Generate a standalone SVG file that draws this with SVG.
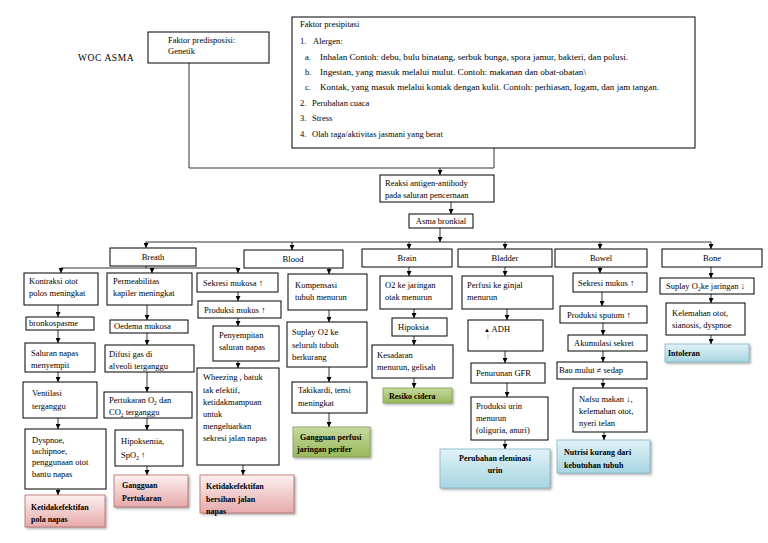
<svg xmlns="http://www.w3.org/2000/svg" width="768" height="543" viewBox="0 0 768 543">
<style>
.b{fill:#fff;stroke:#000;stroke-width:1}
.t{font-family:"Liberation Serif","Times New Roman",serif;font-size:8.5px;fill:#000}
.c{text-anchor:middle}
.bd{font-weight:bold;font-size:8px}
.ln{fill:none;stroke:#000;stroke-width:0.8}
.ar{fill:none;stroke:#000;stroke-width:0.8;marker-end:url(#ah)}
.pk{fill:url(#gp);stroke:#b76b69;stroke-width:0.8;filter:url(#sh)}
.gr{fill:url(#gg);stroke:#8aa04f;stroke-width:0.8;filter:url(#sh)}
.bl{fill:url(#gb);stroke:#82b7c8;stroke-width:0.8;filter:url(#sh)}
.s{font-size:5.5px}
</style>
<defs>
<marker id="ah" viewBox="0 0 6 6" refX="6" refY="3" markerWidth="5" markerHeight="5" markerUnits="userSpaceOnUse" orient="auto">
<path d="M0,0 L6,3 L0,6 Z" fill="#000"/>
</marker>
<linearGradient id="gp" x1="0" y1="0" x2="0" y2="1"><stop offset="0" stop-color="#fdf0f0"/><stop offset="1" stop-color="#e6aaaa"/></linearGradient>
<linearGradient id="gg" x1="0" y1="0" x2="0" y2="1"><stop offset="0" stop-color="#c6da9e"/><stop offset="1" stop-color="#98b95a"/></linearGradient>
<linearGradient id="gb" x1="0" y1="0" x2="0" y2="1"><stop offset="0" stop-color="#e2f2f7"/><stop offset="1" stop-color="#a6d5e2"/></linearGradient>
<filter id="sh" x="-10%" y="-10%" width="130%" height="140%"><feDropShadow dx="1.5" dy="1.5" stdDeviation="0.8" flood-color="#777" flood-opacity="0.6"/></filter>
</defs>
<rect width="768" height="543" fill="#fff"/>

<g id="title"><text class="t" x="78" y="61" style="font-size:9.5px;letter-spacing:0.6px">WOC  ASMA</text></g>

<g id="n-genetik">
<rect class="b" x="148" y="32" width="121" height="31"/>
<text class="t" x="168" y="43">Faktor predisposisi:</text>
<text class="t" x="168" y="54">Genetik</text>
</g>

<g id="n-presipitasi">
<rect class="b" x="292" y="17" width="403" height="131"/>
<text class="t" x="300" y="27">Faktor presipitasi</text>
<text class="t" x="300" y="44">1.</text><text class="t" x="313" y="44">Alergen:</text>
<text class="t" x="305" y="60">a.</text><text class="t" x="320" y="60" textLength="308" lengthAdjust="spacingAndGlyphs">Inhalan Contoh: debu, bulu binatang, serbuk bunga, spora jamur, bakteri, dan polusi.</text>
<text class="t" x="305" y="75">b.</text><text class="t" x="320" y="75" textLength="266" lengthAdjust="spacingAndGlyphs">Ingestan, yang masuk melalui mulut. Contoh: makanan dan obat-obatan\</text>
<text class="t" x="305" y="90">c.</text><text class="t" x="320" y="90" textLength="339" lengthAdjust="spacingAndGlyphs">Kontak, yang masuk melalui kontak dengan kulit. Contoh: perhiasan, logam, dan jam tangan.</text>
<text class="t" x="300" y="106">2.</text><text class="t" x="312" y="106">Perubahan cuaca</text>
<text class="t" x="300" y="121">3.</text><text class="t" x="312" y="121">Stress</text>
<text class="t" x="300" y="137">4.</text><text class="t" x="312" y="137">Olah raga/aktivitas jasmani yang berat</text>
</g>

<g id="n-reaksi">
<rect class="b" x="380" y="175" width="114" height="27"/>
<text class="t" x="385" y="186">Reaksi antigen-antibody</text>
<text class="t" x="385" y="198">pada saluran pencernaan</text>
</g>

<g id="n-asma">
<rect class="b" x="409" y="214" width="64" height="14"/>
<text class="t c" x="441" y="224">Asma bronkial</text>
</g>

<g id="n-breath"><rect class="b" x="110" y="248" width="86" height="18"/><text class="t c" x="153" y="260">Breath</text></g>
<g id="n-blood"><rect class="b" x="244" y="250" width="99" height="18"/><text class="t c" x="293" y="262">Blood</text></g>
<g id="n-brain"><rect class="b" x="362" y="249" width="90" height="18"/><text class="t c" x="407" y="261">Brain</text></g>
<g id="n-bladder"><rect class="b" x="458" y="249" width="94" height="18"/><text class="t c" x="505" y="261">Bladder</text></g>
<g id="n-bowel"><rect class="b" x="555" y="249" width="92" height="18"/><text class="t c" x="601" y="261">Bowel</text></g>
<g id="n-bone"><rect class="b" x="662" y="249" width="100" height="18"/><text class="t c" x="712" y="261">Bone</text></g>

<!-- Breath left -->
<g id="n-kontraksi"><rect class="b" x="24" y="273" width="74" height="32"/><text class="t" x="29" y="284">Kontraksi otot</text><text class="t" x="29" y="296">polos meningkat</text></g>
<g id="n-bronkospasme"><rect class="b" x="26" y="317" width="68" height="13"/><text class="t" x="29" y="326">bronkospasme</text></g>
<g id="n-saluran"><rect class="b" x="25" y="343" width="70" height="29"/><text class="t" x="31" y="356">Saluran napas</text><text class="t" x="31" y="368">menyempit</text></g>
<g id="n-ventilasi"><rect class="b" x="23" y="382" width="74" height="36"/><text class="t" x="32" y="396">Ventilasi</text><text class="t" x="32" y="409">terganggu</text></g>
<g id="n-dyspnoe"><rect class="b" x="25" y="429" width="81" height="60"/><text class="t" x="32" y="443">Dyspnoe,</text><text class="t" x="32" y="454">tachipnoe,</text><text class="t" x="32" y="465">penggunaan otot</text><text class="t" x="32" y="477">bantu napas</text></g>
<g id="n-pola"><rect class="pk" x="25" y="495" width="80" height="32"/><text class="t bd" x="31" y="510">Ketidakefektifan</text><text class="t bd" x="31" y="522">pola napas</text></g>

<!-- Breath right -->
<g id="n-permeabilitas"><rect class="b" x="107" y="273" width="85" height="32"/><text class="t" x="113" y="284">Permeabilitas</text><text class="t" x="113" y="296">kapiler meningkat</text></g>
<g id="n-oedema"><rect class="b" x="110" y="320" width="78" height="13"/><text class="t" x="114" y="329">Oedema mukosa</text></g>
<g id="n-difusi"><rect class="b" x="105" y="345" width="89" height="27"/><text class="t" x="109" y="357">Difusi gas di</text><text class="t" x="109" y="369">alveoli terganggu</text></g>
<g id="n-pertukaran"><rect class="b" x="104" y="392" width="88" height="26"/><text class="t" x="109" y="403">Pertukaran O<tspan class="s" dy="2">2</tspan><tspan dy="-2"> dan</tspan></text><text class="t" x="109" y="415">CO<tspan class="s" dy="2">2</tspan><tspan dy="-2"> terganggu</tspan></text></g>
<g id="n-hipoksemia"><rect class="b" x="115" y="430" width="68" height="36"/><text class="t" x="121" y="444">Hipoksemia,</text><text class="t" x="121" y="458">SpO<tspan class="s" dy="2">2</tspan><tspan dy="-2"> ↑</tspan></text></g>
<g id="n-gangguan-pertukaran"><rect class="pk" x="114" y="475" width="74" height="32"/><text class="t bd" x="122" y="488">Gangguan</text><text class="t bd" x="122" y="501">Pertukaran</text></g>

<!-- Blood left -->
<g id="n-sekresi-mukosa"><rect class="b" x="197" y="273" width="81" height="19"/><text class="t" x="203" y="286">Sekresi mukosa ↑</text></g>
<g id="n-produksi-mukus"><rect class="b" x="198" y="301" width="83" height="17"/><text class="t" x="204" y="313">Produksi mukus ↑</text></g>
<g id="n-penyempitan"><rect class="b" x="213" y="326" width="66" height="35"/><text class="t" x="219" y="338">Penyempitan</text><text class="t" x="219" y="350">saluran napas</text></g>
<g id="n-wheezing"><rect class="b" x="197" y="368" width="82" height="97"/><text class="t" x="203" y="380">Wheezing , batuk</text><text class="t" x="203" y="393">tak efektif,</text><text class="t" x="203" y="405">ketidakmampuan</text><text class="t" x="203" y="417">untuk</text><text class="t" x="203" y="429">mengeluarkan</text><text class="t" x="203" y="441">sekresi jalan napas</text></g>
<g id="n-bersihan"><rect class="pk" x="200" y="475" width="94" height="38"/><text class="t bd" x="206" y="489">Ketidakefektifan</text><text class="t bd" x="206" y="502">bersihan jalan</text><text class="t bd" x="206" y="514">napas</text></g>

<!-- Blood right -->
<g id="n-kompensasi"><rect class="b" x="288" y="274" width="79" height="36"/><text class="t" x="295" y="288">Kompensasi</text><text class="t" x="295" y="300">tubuh menurun</text></g>
<g id="n-suplay"><rect class="b" x="287" y="322" width="80" height="45"/><text class="t" x="292" y="335">Suplay O2 ke</text><text class="t" x="292" y="348">seluruh tubuh</text><text class="t" x="292" y="360">berkurang</text></g>
<g id="n-takikardi"><rect class="b" x="292" y="382" width="75" height="31"/><text class="t" x="298" y="393">Takikardi, tensi</text><text class="t" x="298" y="406">meningkat</text></g>
<g id="n-perfusi-perifer"><rect class="gr" x="293" y="427" width="77" height="30"/><text class="t bd" x="300" y="440">Gangguan perfusi</text><text class="t bd" x="297" y="452">jaringan perifer</text></g>

<!-- Brain -->
<g id="n-o2otak"><rect class="b" x="380" y="276" width="72" height="33"/><text class="t" x="385" y="288">O2 ke jaringan</text><text class="t" x="385" y="300">otak menurun</text></g>
<g id="n-hipoksia"><rect class="b" x="392" y="318" width="55" height="18"/><text class="t" x="398" y="330">Hipoksia</text></g>
<g id="n-kesadaran"><rect class="b" x="372" y="345" width="81" height="33"/><text class="t" x="377" y="358">Kesadaran</text><text class="t" x="377" y="370">menurun, gelisah</text></g>
<g id="n-cidera"><rect class="gr" x="383" y="388" width="69" height="15"/><text class="t bd" x="389" y="399">Resiko cidera</text></g>

<!-- Bladder -->
<g id="n-perfusi-ginjal"><rect class="b" x="462" y="276" width="91" height="33"/><text class="t" x="467" y="288">Perfusi ke ginjal</text><text class="t" x="467" y="300">menurun</text></g>
<g id="n-adh"><rect class="b" x="468" y="320" width="75" height="31"/><text class="t" x="484" y="332"><tspan style="font-size:6px">▲</tspan> ADH</text><line x1="488" y1="334" x2="488" y2="339" stroke="#999" stroke-width="0.6"/></g>
<g id="n-gfr"><rect class="b" x="471" y="363" width="74" height="20"/><text class="t" x="476" y="376">Penurunan GFR</text></g>
<g id="n-urin"><rect class="b" x="471" y="397" width="77" height="43"/><text class="t" x="476" y="409">Produksi urin</text><text class="t" x="476" y="421">menurun</text><text class="t" x="476" y="433">(oliguria, anuri)</text></g>
<g id="n-eleminasi"><rect class="bl" x="440" y="449" width="110" height="39"/><text class="t bd c" x="495" y="461">Perubahan eleminasi</text><text class="t bd c" x="495" y="473">urin</text></g>

<!-- Bowel -->
<g id="n-sekresi-mukus"><rect class="b" x="573" y="273" width="74" height="19"/><text class="t" x="578" y="286">Sekresi mukus ↑</text></g>
<g id="n-sputum"><rect class="b" x="560" y="306" width="87" height="17"/><text class="t" x="567" y="318">Produksi sputum ↑</text></g>
<g id="n-akumulasi"><rect class="b" x="568" y="335" width="79" height="16"/><text class="t" x="574" y="346">Akumulasi sekret</text></g>
<g id="n-bau"><rect class="b" x="557" y="362" width="90" height="17"/><text class="t" x="559" y="373">Bau mulut ≠ sedap</text></g>
<g id="n-nafsu"><rect class="b" x="573" y="388" width="74" height="44"/><text class="t" x="579" y="402">Nafsu makan ↓,</text><text class="t" x="579" y="414">kelemahan otot,</text><text class="t" x="579" y="426">nyeri telan</text></g>
<g id="n-nutrisi"><rect class="bl" x="557" y="440" width="93" height="33"/><text class="t bd" x="564" y="455">Nutrisi kurang dari</text><text class="t bd" x="564" y="468">kebutuhan tubuh</text></g>

<!-- Bone -->
<g id="n-suplay-jaringan"><rect class="b" x="660" y="278" width="94" height="16"/><text class="t" x="666" y="289">Suplay O<tspan class="s" dy="2">2</tspan><tspan dy="-2">ke jaringan ↓</tspan></text></g>
<g id="n-kelemahan"><rect class="b" x="666" y="303" width="79" height="32"/><text class="t" x="672" y="316">Kelemahan otot,</text><text class="t" x="672" y="328">sianosis, dyspnoe</text></g>
<g id="n-intoleran"><rect class="bl" x="665" y="344" width="84" height="18"/><text class="t bd" x="668" y="356">Intoleran</text></g>

<g id="connectors">
<path class="ln" d="M189,63 V168 H494 M494,148 V168"/>
<line class="ar" x1="440" y1="168" x2="440" y2="175"/>
<line class="ar" x1="451" y1="202" x2="451" y2="214"/>
<line class="ar" x1="440" y1="228" x2="440" y2="242"/>
<line class="ln" x1="146" y1="242" x2="711" y2="242"/>
<line class="ar" x1="146" y1="242" x2="146" y2="248"/>
<line class="ar" x1="292" y1="242" x2="292" y2="250"/>
<line class="ar" x1="409" y1="242" x2="409" y2="249"/>
<line class="ar" x1="505" y1="242" x2="505" y2="249"/>
<line class="ar" x1="600" y1="242" x2="600" y2="249"/>
<line class="ar" x1="711" y1="242" x2="711" y2="249"/>
<path class="ln" d="M146,266 V268 M61,268 H238"/>
<line class="ar" x1="61" y1="268" x2="61" y2="273"/>
<line class="ar" x1="152" y1="268" x2="152" y2="273"/>
<line class="ar" x1="238" y1="268" x2="238" y2="273"/>
<line class="ar" x1="329" y1="268" x2="329" y2="274"/>
<line class="ar" x1="409" y1="267" x2="409" y2="276"/>
<line class="ar" x1="505" y1="267" x2="505" y2="276"/>
<line class="ar" x1="600" y1="267" x2="600" y2="273"/>
<line class="ar" x1="711" y1="267" x2="711" y2="278"/>
<line class="ar" x1="58" y1="305" x2="58" y2="317"/>
<line class="ar" x1="58" y1="330" x2="58" y2="343"/>
<line class="ar" x1="58" y1="372" x2="58" y2="382"/>
<line class="ar" x1="58" y1="418" x2="58" y2="429"/>
<line class="ar" x1="58" y1="489" x2="58" y2="495"/>
<line class="ar" x1="147" y1="305" x2="147" y2="320"/>
<line class="ar" x1="147" y1="333" x2="147" y2="345"/>
<line class="ar" x1="147" y1="372" x2="147" y2="392"/>
<line class="ar" x1="147" y1="418" x2="147" y2="430"/>
<line class="ar" x1="147" y1="466" x2="147" y2="475"/>
<line class="ar" x1="238" y1="292" x2="238" y2="301"/>
<line class="ar" x1="238" y1="318" x2="238" y2="326"/>
<line class="ar" x1="238" y1="361" x2="238" y2="368"/>
<line class="ar" x1="243" y1="465" x2="243" y2="475"/>
<line class="ar" x1="329" y1="310" x2="329" y2="322"/>
<line class="ar" x1="329" y1="367" x2="329" y2="382"/>
<line class="ar" x1="329" y1="413" x2="329" y2="427"/>
<line class="ar" x1="414" y1="309" x2="414" y2="318"/>
<line class="ar" x1="414" y1="336" x2="414" y2="345"/>
<line class="ar" x1="414" y1="378" x2="414" y2="388"/>
<line class="ar" x1="507" y1="309" x2="507" y2="320"/>
<line class="ar" x1="505" y1="351" x2="505" y2="363"/>
<line class="ar" x1="507" y1="383" x2="507" y2="397"/>
<line class="ar" x1="505" y1="440" x2="505" y2="449"/>
<line class="ar" x1="602" y1="292" x2="602" y2="306"/>
<line class="ar" x1="603" y1="323" x2="603" y2="335"/>
<line class="ar" x1="603" y1="351" x2="603" y2="362"/>
<line class="ar" x1="603" y1="379" x2="603" y2="388"/>
<line class="ar" x1="604" y1="432" x2="604" y2="440"/>
<line class="ar" x1="711" y1="294" x2="711" y2="303"/>
<line class="ar" x1="711" y1="335" x2="711" y2="344"/>
</g>
</svg>
